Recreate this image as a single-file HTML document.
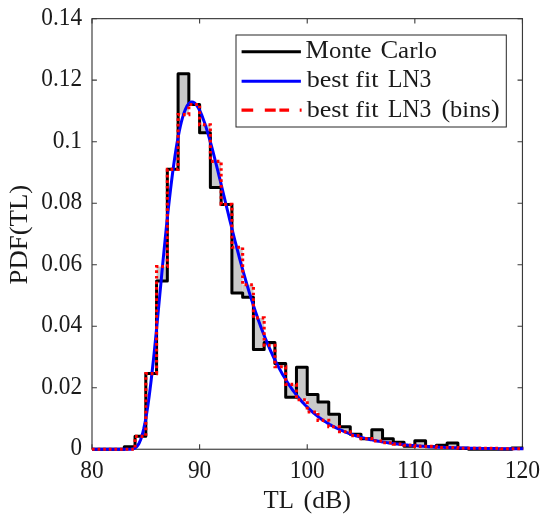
<!DOCTYPE html>
<html><head><meta charset="utf-8"><title>PDF(TL)</title>
<style>
html,body{margin:0;padding:0;background:#fff;}
svg{display:block;font-family:"Liberation Serif","DejaVu Serif",serif;font-size:25.1px;fill:#1a1a1a;}
</style></head><body>
<svg width="550" height="520" viewBox="0 0 550 520">
<rect width="550" height="520" fill="#fff"/>
<rect x="92.0" y="18.65" width="430.45" height="430.60" fill="none" stroke="#3a3a3a" stroke-width="1.15"/>
<path d="M92.00 449.25 v-4.9 M92.00 18.65 v4.9 M199.61 449.25 v-4.9 M199.61 18.65 v4.9 M307.23 449.25 v-4.9 M307.23 18.65 v4.9 M414.84 449.25 v-4.9 M414.84 18.65 v4.9 M522.45 449.25 v-4.9 M522.45 18.65 v4.9 M92.00 449.25 h4.9 M522.45 449.25 h-4.9 M92.00 387.74 h4.9 M522.45 387.74 h-4.9 M92.00 326.22 h4.9 M522.45 326.22 h-4.9 M92.00 264.71 h4.9 M522.45 264.71 h-4.9 M92.00 203.19 h4.9 M522.45 203.19 h-4.9 M92.00 141.68 h4.9 M522.45 141.68 h-4.9 M92.00 80.16 h4.9 M522.45 80.16 h-4.9 M92.00 18.65 h4.9 M522.45 18.65 h-4.9" fill="none" stroke="#3a3a3a" stroke-width="1.1"/>
<g fill="#c9c9c9" stroke="none"><rect x="124.28" y="446.79" width="10.76" height="2.46"/><rect x="156.57" y="266.55" width="10.76" height="14.46"/><rect x="178.09" y="73.71" width="10.76" height="40.91"/><rect x="199.61" y="124.76" width="10.76" height="8.00"/><rect x="210.37" y="161.36" width="10.76" height="26.14"/><rect x="231.90" y="247.18" width="10.76" height="45.83"/><rect x="242.66" y="284.70" width="10.76" height="12.61"/><rect x="253.42" y="317.92" width="10.76" height="31.68"/><rect x="264.18" y="342.52" width="10.76" height="2.77"/><rect x="274.94" y="363.44" width="10.76" height="3.38"/><rect x="285.70" y="384.35" width="10.76" height="12.92"/><rect x="296.46" y="367.13" width="10.76" height="32.60"/><rect x="307.23" y="394.50" width="10.76" height="17.52"/><rect x="317.99" y="401.88" width="10.76" height="18.47"/><rect x="328.75" y="414.19" width="10.76" height="12.62"/><rect x="339.51" y="426.80" width="10.76" height="5.00"/><rect x="350.27" y="434.33" width="10.76" height="1.33"/><rect x="371.79" y="429.72" width="10.76" height="11.25"/><rect x="382.55" y="438.79" width="10.76" height="3.97"/><rect x="393.31" y="442.33" width="10.76" height="1.83"/><rect x="404.08" y="445.24" width="10.76" height="1.12"/><rect x="414.84" y="440.64" width="10.76" height="5.45"/><rect x="436.36" y="445.13" width="10.76" height="2.14"/><rect x="447.12" y="443.10" width="10.76" height="4.57"/><rect x="457.88" y="447.99" width="10.76" height="0.33"/><rect x="468.64" y="448.25" width="10.76" height="1.00"/><rect x="479.41" y="448.45" width="10.76" height="0.80"/><rect x="490.17" y="448.60" width="10.76" height="0.65"/><rect x="500.93" y="448.73" width="10.76" height="0.52"/><rect x="511.69" y="448.02" width="10.76" height="0.81"/></g>
<path d="M92.00 449.25 L102.76 449.25 L102.76 449.25 L113.52 449.25 L113.52 449.25 L124.28 449.25 L124.28 446.79 L135.05 446.79 L135.05 436.33 L145.81 436.33 L145.81 373.59 L156.57 373.59 L156.57 281.01 L167.33 281.01 L167.33 169.36 L178.09 169.36 L178.09 73.71 L188.85 73.71 L188.85 104.46 L199.61 104.46 L199.61 132.76 L210.37 132.76 L210.37 187.51 L221.14 187.51 L221.14 204.42 L231.90 204.42 L231.90 293.00 L242.66 293.00 L242.66 297.31 L253.42 297.31 L253.42 349.60 L264.18 349.60 L264.18 342.52 L274.94 342.52 L274.94 363.44 L285.70 363.44 L285.70 397.27 L296.46 397.27 L296.46 367.13 L307.23 367.13 L307.23 394.50 L317.99 394.50 L317.99 401.88 L328.75 401.88 L328.75 414.19 L339.51 414.19 L339.51 426.80 L350.27 426.80 L350.27 434.33 L361.03 434.33 L361.03 438.79 L371.79 438.79 L371.79 429.72 L382.55 429.72 L382.55 438.79 L393.31 438.79 L393.31 442.33 L404.08 442.33 L404.08 446.36 L414.84 446.36 L414.84 440.64 L425.60 440.64 L425.60 446.79 L436.36 446.79 L436.36 445.13 L447.12 445.13 L447.12 443.10 L457.88 443.10 L457.88 448.33 L468.64 448.33 L468.64 449.25 L479.41 449.25 L479.41 449.25 L490.17 449.25 L490.17 449.25 L500.93 449.25 L500.93 449.25 L511.69 449.25 L511.69 448.02 L523.25 448.02" fill="none" stroke="#000" stroke-width="3" stroke-linejoin="round"/>
<path d="M92.00 449.25 L93.08 449.25 L94.15 449.25 L95.23 449.25 L96.30 449.25 L97.38 449.25 L98.46 449.25 L99.53 449.25 L100.61 449.25 L101.69 449.25 L102.76 449.25 L103.84 449.25 L104.91 449.25 L105.99 449.25 L107.07 449.25 L108.14 449.25 L109.22 449.25 L110.29 449.25 L111.37 449.25 L112.45 449.25 L113.52 449.25 L114.60 449.25 L115.67 449.25 L116.75 449.25 L117.83 449.25 L118.90 449.25 L119.98 449.25 L121.06 449.25 L122.13 449.25 L123.21 449.25 L124.28 449.25 L125.36 449.25 L126.44 449.25 L127.51 449.25 L128.59 449.24 L129.66 449.22 L130.74 449.17 L131.82 449.06 L132.89 448.86 L133.97 448.53 L135.05 448.01 L136.12 447.24 L137.20 446.14 L138.27 444.65 L139.35 442.71 L140.43 440.24 L141.50 437.19 L142.58 433.52 L143.65 429.18 L144.73 424.17 L145.81 418.46 L146.88 412.06 L147.96 404.98 L149.03 397.25 L150.11 388.90 L151.19 379.98 L152.26 370.53 L153.34 360.62 L154.42 350.30 L155.49 339.64 L156.57 328.71 L157.64 317.57 L158.72 306.28 L159.80 294.92 L160.87 283.55 L161.95 272.23 L163.02 261.01 L164.10 249.94 L165.18 239.09 L166.25 228.49 L167.33 218.18 L168.40 208.20 L169.48 198.58 L170.56 189.36 L171.63 180.55 L172.71 172.18 L173.79 164.26 L174.86 156.80 L175.94 149.82 L177.01 143.33 L178.09 137.32 L179.17 131.80 L180.24 126.77 L181.32 122.23 L182.39 118.17 L183.47 114.59 L184.55 111.48 L185.62 108.82 L186.70 106.62 L187.78 104.86 L188.85 103.52 L189.93 102.59 L191.00 102.07 L192.08 101.92 L193.16 102.15 L194.23 102.72 L195.31 103.63 L196.38 104.86 L197.46 106.39 L198.54 108.20 L199.61 110.28 L200.69 112.60 L201.76 115.16 L202.84 117.93 L203.92 120.89 L204.99 124.04 L206.07 127.36 L207.15 130.83 L208.22 134.43 L209.30 138.17 L210.37 142.01 L211.45 145.96 L212.53 150.00 L213.60 154.11 L214.68 158.30 L215.75 162.54 L216.83 166.84 L217.91 171.18 L218.98 175.55 L220.06 179.96 L221.14 184.38 L222.21 188.82 L223.29 193.26 L224.36 197.71 L225.44 202.16 L226.52 206.59 L227.59 211.02 L228.67 215.43 L229.74 219.81 L230.82 224.17 L231.90 228.51 L232.97 232.81 L234.05 237.07 L235.12 241.30 L236.20 245.48 L237.28 249.62 L238.35 253.72 L239.43 257.77 L240.51 261.77 L241.58 265.72 L242.66 269.61 L243.73 273.46 L244.81 277.24 L245.89 280.98 L246.96 284.65 L248.04 288.27 L249.11 291.83 L250.19 295.33 L251.27 298.77 L252.34 302.16 L253.42 305.48 L254.49 308.75 L255.57 311.96 L256.65 315.11 L257.72 318.20 L258.80 321.23 L259.88 324.20 L260.95 327.12 L262.03 329.97 L263.10 332.77 L264.18 335.52 L265.26 338.21 L266.33 340.84 L267.41 343.42 L268.48 345.94 L269.56 348.41 L270.64 350.83 L271.71 353.19 L272.79 355.51 L273.87 357.77 L274.94 359.98 L276.02 362.15 L277.09 364.27 L278.17 366.33 L279.25 368.36 L280.32 370.33 L281.40 372.26 L282.47 374.15 L283.55 375.99 L284.63 377.79 L285.70 379.55 L286.78 381.27 L287.85 382.95 L288.93 384.59 L290.01 386.18 L291.08 387.75 L292.16 389.27 L293.24 390.76 L294.31 392.21 L295.39 393.63 L296.46 395.01 L297.54 396.36 L298.62 397.68 L299.69 398.96 L300.77 400.21 L301.84 401.44 L302.92 402.63 L304.00 403.79 L305.07 404.93 L306.15 406.03 L307.23 407.11 L308.30 408.17 L309.38 409.19 L310.45 410.19 L311.53 411.17 L312.61 412.12 L313.68 413.05 L314.76 413.96 L315.83 414.84 L316.91 415.70 L317.99 416.54 L319.06 417.36 L320.14 418.15 L321.21 418.93 L322.29 419.69 L323.37 420.43 L324.44 421.15 L325.52 421.85 L326.60 422.54 L327.67 423.20 L328.75 423.85 L329.82 424.49 L330.90 425.10 L331.98 425.71 L333.05 426.29 L334.13 426.87 L335.20 427.42 L336.28 427.97 L337.36 428.50 L338.43 429.01 L339.51 429.52 L340.58 430.01 L341.66 430.48 L342.74 430.95 L343.81 431.40 L344.89 431.85 L345.97 432.28 L347.04 432.70 L348.12 433.11 L349.19 433.51 L350.27 433.90 L351.35 434.28 L352.42 434.65 L353.50 435.01 L354.57 435.36 L355.65 435.70 L356.73 436.03 L357.80 436.36 L358.88 436.67 L359.96 436.98 L361.03 437.28 L362.11 437.58 L363.18 437.86 L364.26 438.14 L365.34 438.42 L366.41 438.68 L367.49 438.94 L368.56 439.19 L369.64 439.44 L370.72 439.67 L371.79 439.91 L372.87 440.14 L373.94 440.36 L375.02 440.57 L376.10 440.78 L377.17 440.99 L378.25 441.19 L379.33 441.38 L380.40 441.57 L381.48 441.76 L382.55 441.94 L383.63 442.12 L384.71 442.29 L385.78 442.46 L386.86 442.62 L387.93 442.78 L389.01 442.93 L390.09 443.09 L391.16 443.23 L392.24 443.38 L393.31 443.52 L394.39 443.65 L395.47 443.79 L396.54 443.92 L397.62 444.05 L398.70 444.17 L399.77 444.29 L400.85 444.41 L401.92 444.52 L403.00 444.63 L404.08 444.74 L405.15 444.85 L406.23 444.95 L407.30 445.06 L408.38 445.15 L409.46 445.25 L410.53 445.35 L411.61 445.44 L412.69 445.53 L413.76 445.61 L414.84 445.70 L415.91 445.78 L416.99 445.86 L418.07 445.94 L419.14 446.02 L420.22 446.09 L421.29 446.17 L422.37 446.24 L423.45 446.31 L424.52 446.38 L425.60 446.44 L426.67 446.51 L427.75 446.57 L428.83 446.63 L429.90 446.70 L430.98 446.75 L432.06 446.81 L433.13 446.87 L434.21 446.92 L435.28 446.98 L436.36 447.03 L437.44 447.08 L438.51 447.13 L439.59 447.18 L440.66 447.22 L441.74 447.27 L442.82 447.32 L443.89 447.36 L444.97 447.40 L446.05 447.44 L447.12 447.49 L448.20 447.53 L449.27 447.56 L450.35 447.60 L451.43 447.64 L452.50 447.68 L453.58 447.71 L454.65 447.75 L455.73 447.78 L456.81 447.81 L457.88 447.85 L458.96 447.88 L460.03 447.91 L461.11 447.94 L462.19 447.97 L463.26 448.00 L464.34 448.02 L465.42 448.05 L466.49 448.08 L467.57 448.10 L468.64 448.13 L469.72 448.15 L470.80 448.18 L471.87 448.20 L472.95 448.22 L474.02 448.25 L475.10 448.27 L476.18 448.29 L477.25 448.31 L478.33 448.33 L479.41 448.35 L480.48 448.37 L481.56 448.39 L482.63 448.41 L483.71 448.43 L484.79 448.45 L485.86 448.46 L486.94 448.48 L488.01 448.50 L489.09 448.51 L490.17 448.53 L491.24 448.55 L492.32 448.56 L493.39 448.58 L494.47 448.59 L495.55 448.60 L496.62 448.62 L497.70 448.63 L498.78 448.65 L499.85 448.66 L500.93 448.67 L502.00 448.68 L503.08 448.70 L504.16 448.71 L505.23 448.72 L506.31 448.73 L507.38 448.74 L508.46 448.75 L509.54 448.76 L510.61 448.77 L511.69 448.78 L512.76 448.79 L513.84 448.80 L514.92 448.81 L515.99 448.82 L517.07 448.83 L518.15 448.84 L519.22 448.85 L520.30 448.86 L521.37 448.87 L522.45 448.87 h0.8" fill="none" stroke="#0000ff" stroke-width="3" stroke-linejoin="round"/>
<path d="M92.00 449.25 L135.05 449.25 L135.05 436.33 L145.81 436.33 L145.81 373.59 L156.57 373.59 L156.57 266.55 L167.33 266.55 L167.33 169.36 L178.09 169.36 L178.09 114.61 L188.85 114.61 L188.85 104.46 L199.61 104.46 L199.61 124.76 L210.37 124.76 L210.37 161.36 L221.14 161.36 L221.14 204.42 L231.90 204.42 L231.90 247.18 L242.66 247.18 L242.66 284.70 L253.42 284.70 L253.42 317.92 L264.18 317.92 L264.18 345.29 L274.94 345.29 L274.94 366.82 L285.70 366.82 L285.70 384.35 L296.46 384.35 L296.46 399.73 L307.23 399.73 L307.23 412.02 L317.99 412.02 L317.99 420.35 L328.75 420.35 L328.75 426.80 L339.51 426.80 L339.51 431.80 L350.27 431.80 L350.27 435.66 L361.03 435.66 L361.03 438.65 L371.79 438.65 L371.79 440.97 L382.55 440.97 L382.55 442.76 L393.31 442.76 L393.31 444.16 L404.08 444.16 L404.08 445.24 L414.84 445.24 L414.84 446.42 L436.36 446.42 L436.36 447.47 L457.88 447.47 L457.88 448.32 L500.93 448.32 L500.93 448.78 L523.25 448.78" fill="none" stroke="#ff0000" stroke-width="3.1" stroke-dasharray="2.7 2.9" stroke-linejoin="miter"/>
<g><text x="82.1" y="455.45" text-anchor="end" textLength="11.5" lengthAdjust="spacingAndGlyphs">0</text><text x="82.1" y="393.94" text-anchor="end" textLength="40.8" lengthAdjust="spacingAndGlyphs">0.02</text><text x="82.1" y="332.42" text-anchor="end" textLength="40.8" lengthAdjust="spacingAndGlyphs">0.04</text><text x="82.1" y="270.91" text-anchor="end" textLength="40.8" lengthAdjust="spacingAndGlyphs">0.06</text><text x="82.1" y="209.39" text-anchor="end" textLength="40.8" lengthAdjust="spacingAndGlyphs">0.08</text><text x="82.1" y="147.88" text-anchor="end" textLength="29.3" lengthAdjust="spacingAndGlyphs">0.1</text><text x="82.1" y="86.36" text-anchor="end" textLength="40.8" lengthAdjust="spacingAndGlyphs">0.12</text><text x="82.1" y="24.85" text-anchor="end" textLength="40.8" lengthAdjust="spacingAndGlyphs">0.14</text></g>
<g><text x="92.00" y="478.2" text-anchor="middle" textLength="23.3" lengthAdjust="spacingAndGlyphs">80</text><text x="199.61" y="478.2" text-anchor="middle" textLength="23.3" lengthAdjust="spacingAndGlyphs">90</text><text x="307.23" y="478.2" text-anchor="middle" textLength="35.0" lengthAdjust="spacingAndGlyphs">100</text><text x="414.84" y="478.2" text-anchor="middle" textLength="35.5" lengthAdjust="spacingAndGlyphs">110</text><text x="522.45" y="478.2" text-anchor="middle" textLength="35.5" lengthAdjust="spacingAndGlyphs">120</text></g>
<text x="263.6" y="508.1" textLength="30.4" lengthAdjust="spacingAndGlyphs" font-size="24.8">TL</text>
<text x="303.6" y="508.1" textLength="47.4" lengthAdjust="spacingAndGlyphs" font-size="24.8">(<tspan font-size="24">d</tspan>B)</text>
<text transform="translate(26.7 234.6) rotate(-90)" text-anchor="middle" textLength="99.6" lengthAdjust="spacingAndGlyphs" font-size="26">PDF(TL)</text>
<rect x="236" y="35" width="270.3" height="92" fill="#fff" stroke="#262626" stroke-width="1"/>
<path d="M241.6 51.8 H300.9" stroke="#000" stroke-width="3"/>
<path d="M241.6 81.2 H300.9" stroke="#0000ff" stroke-width="3"/>
<path d="M241.5 110.2 H253.2 M264.8 110.2 H275.7 M279.4 110.2 H289.1 M299.7 110.2 H301.6" stroke="#ff0000" stroke-width="3.2"/>
<g font-size="25.6">
<text x="305.6" y="57.6" textLength="66" lengthAdjust="spacingAndGlyphs">M<tspan font-size="24">onte</tspan></text>
<text x="380.4" y="57.6" textLength="56.5" lengthAdjust="spacingAndGlyphs">C<tspan font-size="24">arlo</tspan></text>
<text x="306.7" y="87.1" textLength="71.8" lengthAdjust="spacingAndGlyphs" font-size="24">best fit</text>
<text x="388.0" y="87.1" textLength="43.4" lengthAdjust="spacingAndGlyphs">LN3</text>
<text x="306.7" y="116.8" textLength="71.8" lengthAdjust="spacingAndGlyphs" font-size="24">best fit</text>
<text x="388.0" y="116.8" textLength="43.4" lengthAdjust="spacingAndGlyphs">LN3</text>
<text x="441.4" y="116.8" textLength="58.2" lengthAdjust="spacingAndGlyphs">(<tspan font-size="24">bins</tspan>)</text>
</g>
</svg>
</body></html>
